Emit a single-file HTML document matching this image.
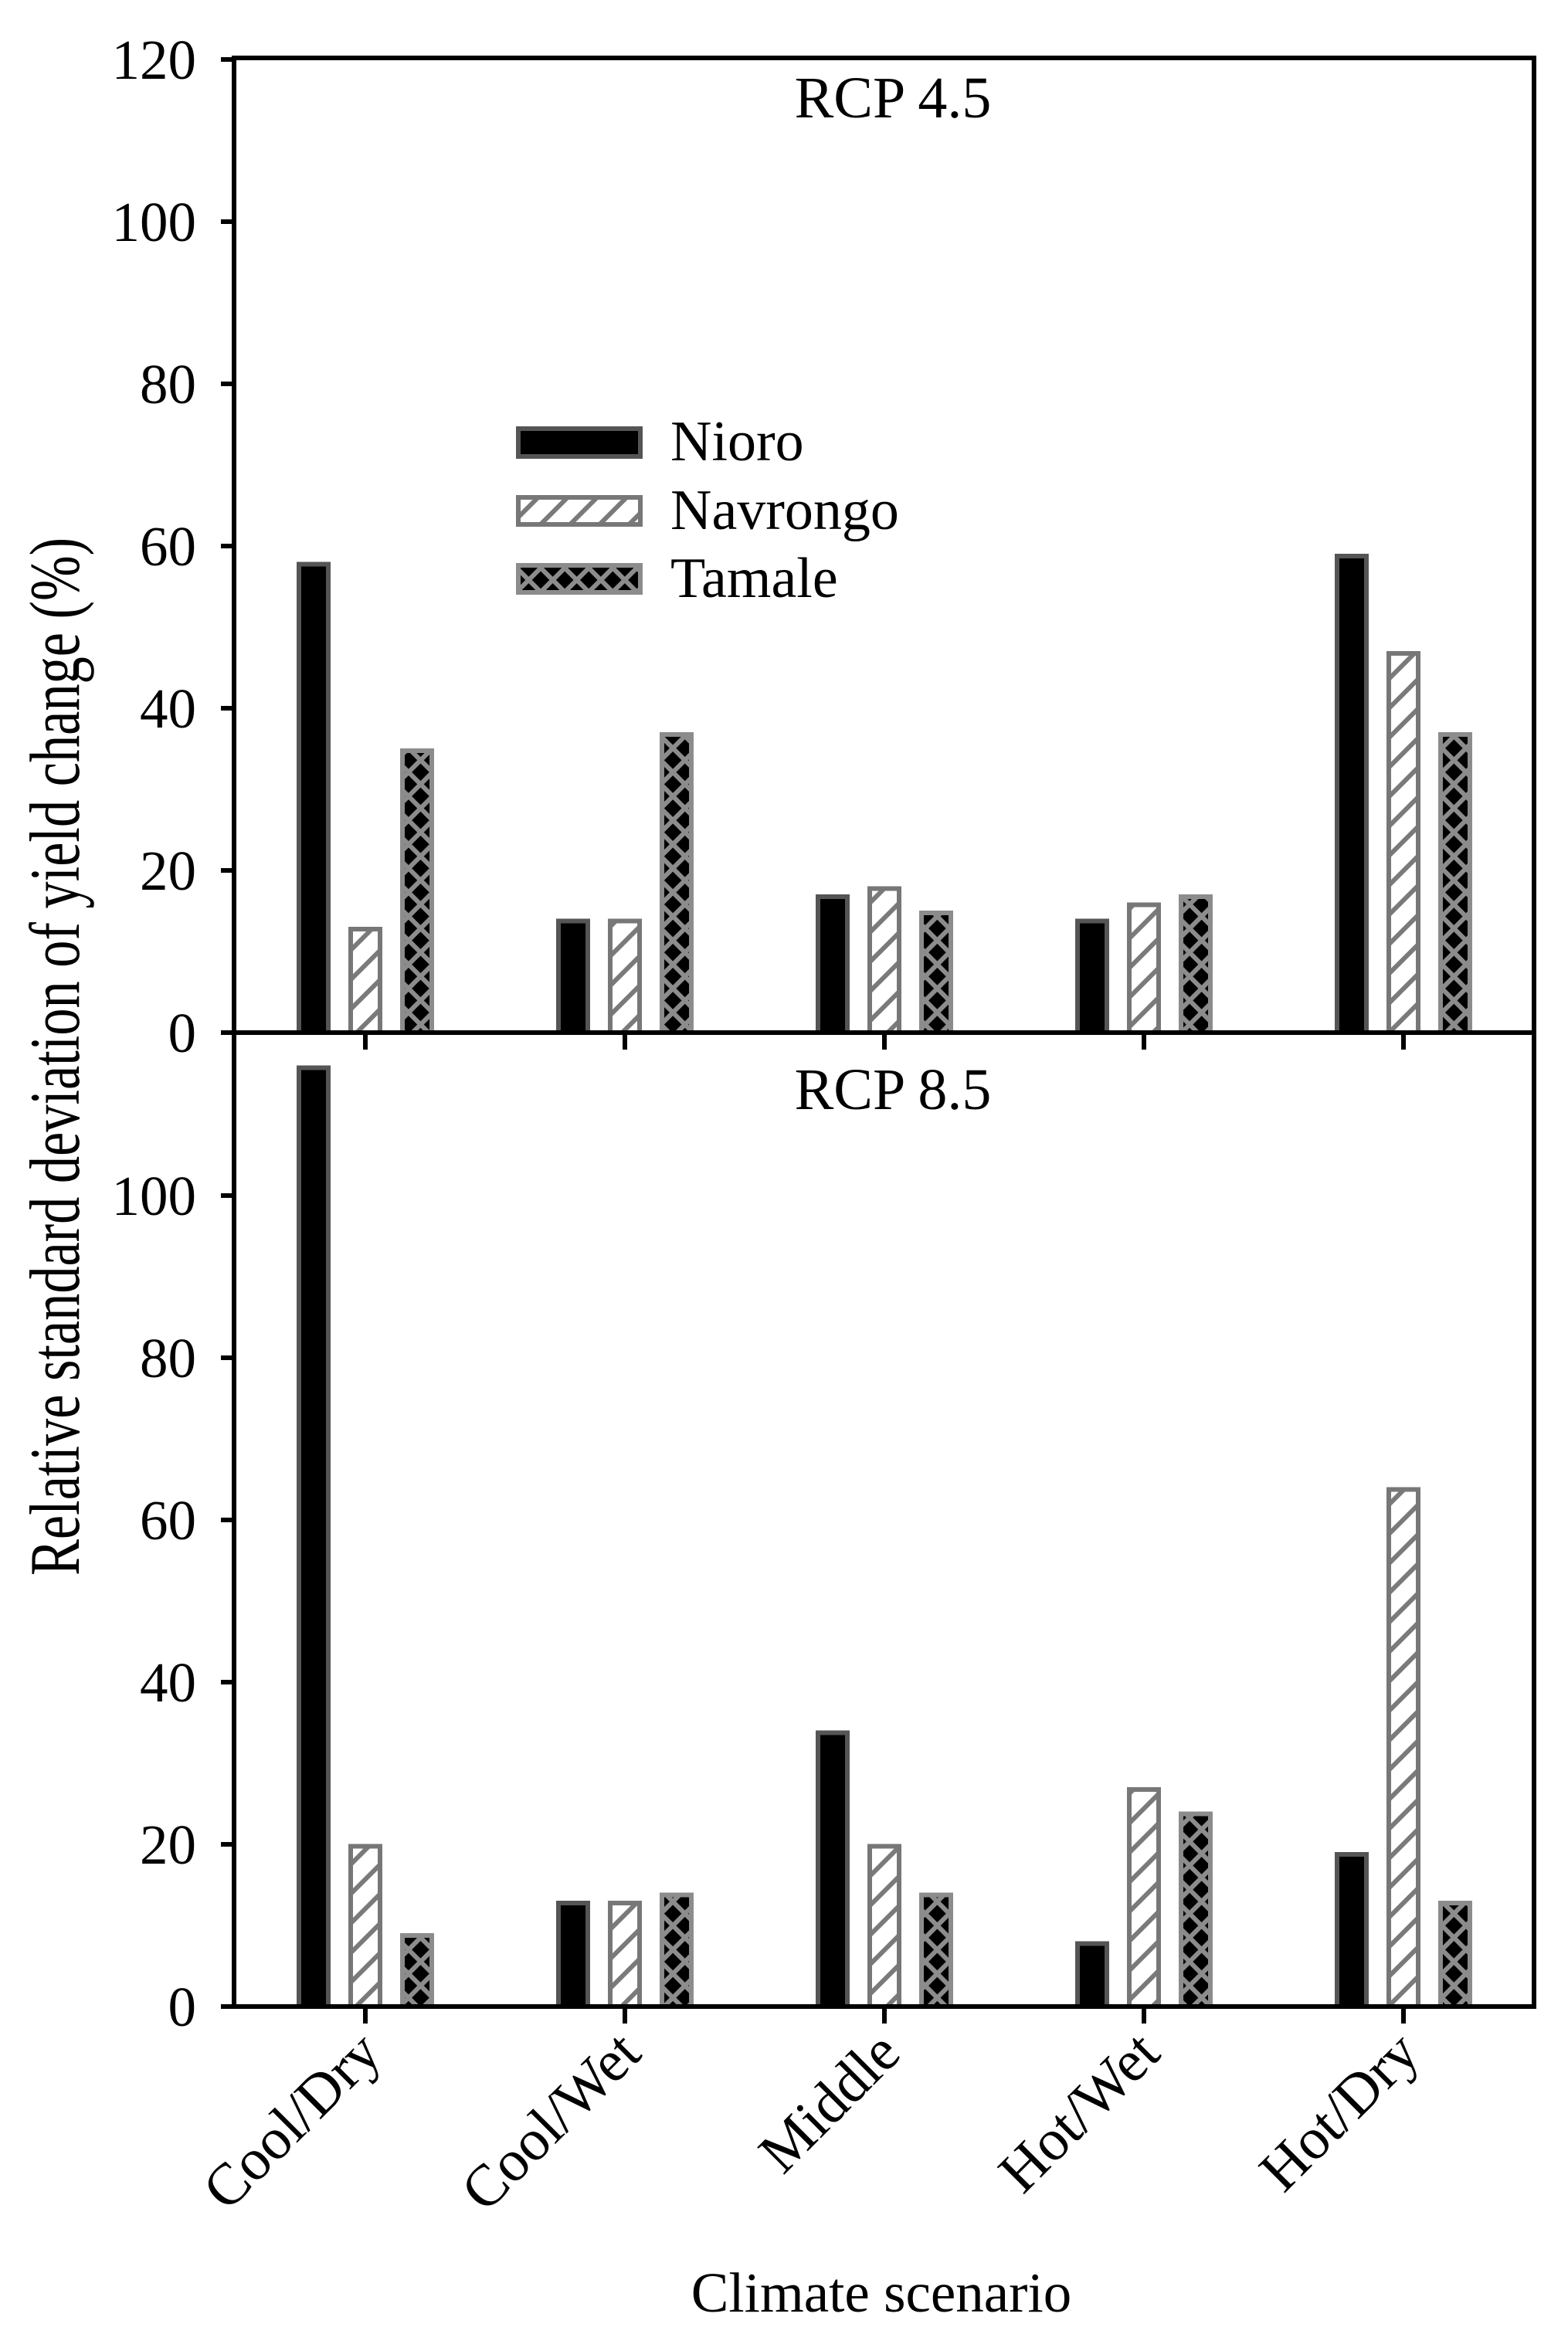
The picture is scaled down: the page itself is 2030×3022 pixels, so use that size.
<!DOCTYPE html>
<html><head><meta charset="utf-8"><style>
html,body{margin:0;padding:0;background:#fff}
svg{display:block}
text{font-family:"Liberation Serif",serif;fill:#000}
</style></head><body>
<svg width="2030" height="3022" viewBox="0 0 2030 3022" xmlns="http://www.w3.org/2000/svg">
<defs>
<pattern id="diag" patternUnits="userSpaceOnUse" width="27" height="27" patternTransform="rotate(45)">
<rect width="27" height="27" fill="#fff"/>
<rect x="0" y="0" width="6" height="27" fill="#7a7a7a"/>
</pattern>
<pattern id="cross" patternUnits="userSpaceOnUse" width="22" height="22" patternTransform="rotate(45)">
<rect width="22" height="22" fill="#000"/>
<rect x="0" y="0" width="6" height="22" fill="#8c8c8c"/>
<rect x="0" y="0" width="22" height="6" fill="#8c8c8c"/>
</pattern>
</defs>
<rect width="2030" height="3022" fill="#fff"/>
<g id="bars"></g>
<g stroke="#000" stroke-width="6" fill="none">
<rect x="303" y="75" width="1683" height="2523"/>
<line x1="303" y1="1337" x2="1986" y2="1337"/>
</g>
<g stroke="#000" stroke-width="6" id="ticks"></g>
<g font-size="73" text-anchor="end" id="ylab"></g>
<text x="1156" y="152" font-size="76" text-anchor="middle">RCP 4.5</text>
<text x="1156" y="1436" font-size="76" text-anchor="middle">RCP 8.5</text>
<text transform="translate(102,1368) rotate(-90)" font-size="92" text-anchor="middle" textLength="1344" lengthAdjust="spacingAndGlyphs">Relative standard deviation of yield change (%)</text>
<text x="1141" y="2993" font-size="73" text-anchor="middle">Climate scenario</text>
<rect x="671" y="555" width="158" height="36" fill="#000" stroke="#555" stroke-width="6"/>
<rect x="671" y="644" width="158" height="35" fill="url(#diag)" stroke="#777" stroke-width="6"/>
<rect x="671" y="732" width="158" height="35" fill="url(#cross)" stroke="#8c8c8c" stroke-width="6"/>
<text x="868" y="596" font-size="74">Nioro</text>
<text x="868" y="685" font-size="74">Navrongo</text>
<text x="868" y="773" font-size="74">Tamale</text>
<g font-size="76" text-anchor="end" id="xlab"></g>
<script>
var ns="http://www.w3.org/2000/svg";
function el(t,a,p){var e=document.createElementNS(ns,t);for(var k in a)e.setAttribute(k,a[k]);p.appendChild(e);return e;}
var ticks=[473,809,1145,1481,1817];
var top4=[[58,14,17,14,59],[13,14,18,16,47],[35,37,15,17,37]];
var bot8=[[116,13,34,8,19],[20,13,20,27,64],[9,14,14,24,13]];
var fills=["#000","url(#diag)","url(#cross)"],strokes=["#555","#777","#8c8c8c"],off=[-67,0,67];
var g=document.getElementById("bars");
function draw(data,z){for(var s=0;s<3;s++)for(var i=0;i<5;i++){var h=data[s][i]*10.5;el("rect",{x:ticks[i]+off[s]-19,y:z-h+2.5,width:38,height:h-2.5,fill:fills[s],stroke:strokes[s],"stroke-width":6},g);}}
draw(top4,1337);draw(bot8,2598);
var tg=document.getElementById("ticks"),yl=document.getElementById("ylab");
for(var v=0;v<=120;v+=20){var y=1337-v*10.5;el("line",{x1:286,y1:y,x2:303,y2:y},tg);var t=el("text",{x:254,y:y+25},yl);t.textContent=v;}
for(var v=0;v<=100;v+=20){var y=2598-v*10.5;el("line",{x1:286,y1:y,x2:303,y2:y},tg);var t=el("text",{x:254,y:y+25},yl);t.textContent=v;}
ticks.forEach(function(x){el("line",{x1:x,y1:1337,x2:x,y2:1359},tg);el("line",{x1:x,y1:2598,x2:x,y2:2620},tg);});
var names=["Cool/Dry","Cool/Wet","Middle","Hot/Wet","Hot/Dry"],xl=document.getElementById("xlab");
ticks.forEach(function(x,i){var t=el("text",{transform:"translate("+(x+24)+",2662) rotate(-45)"},xl);t.textContent=names[i];});
</script>
</svg>
</body></html>
